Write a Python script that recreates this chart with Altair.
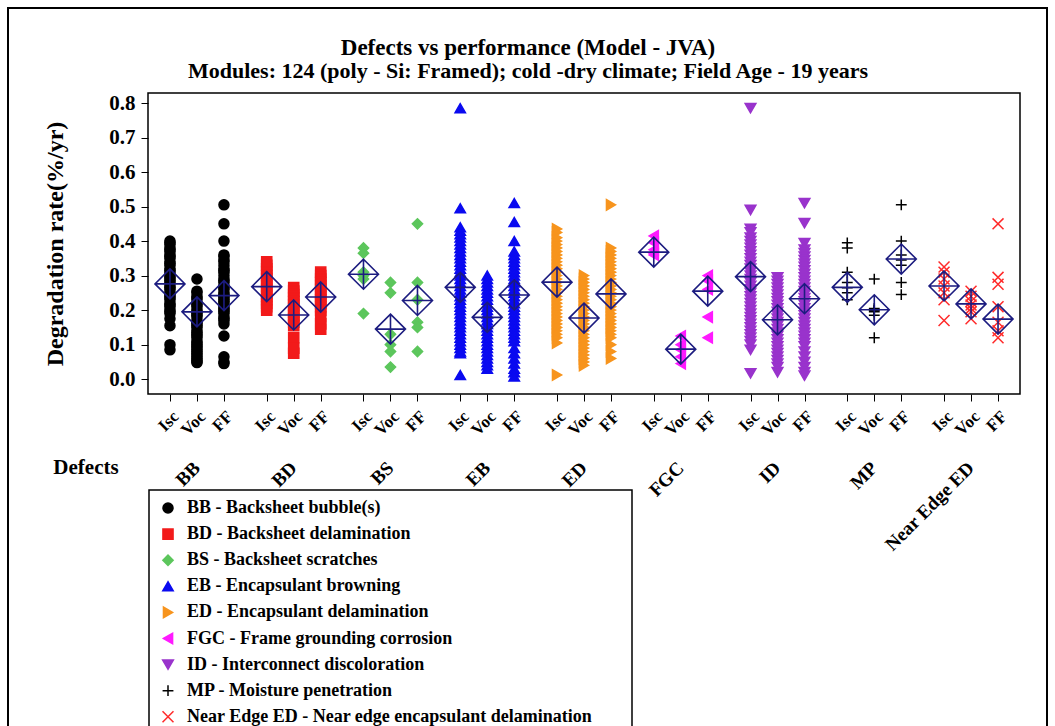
import altair as alt
import pandas as pd

# ---------------- data ----------------
DEFECTS = ["BB", "BD", "BS", "EB", "ED", "FGC", "ID", "MP", "Near Edge ED"]
PARAMS = ["Isc", "Voc", "FF"]
LEGEND_LABELS = [
    "BB - Backsheet bubble(s)",
    "BD - Backsheet delamination",
    "BS - Backsheet scratches",
    "EB - Encapsulant browning",
    "ED - Encapsulant delamination",
    "FGC - Frame grounding corrosion",
    "ID - Interconnect discoloration",
    "MP - Moisture penetration",
    "Near Edge ED - Near edge encapsulant delamination",
]
TITLE = "Defects vs performance (Model - JVA)"
SUBTITLE = "Modules: 124 (poly - Si: Framed); cold -dry climate; Field Age - 19 years"

BB_ISC = [0.40, 0.395, 0.39, 0.38, 0.375, 0.37, 0.36, 0.355, 0.35, 0.34, 0.335, 0.33, 0.32, 0.315,
          0.31, 0.30, 0.295, 0.29, 0.285, 0.28, 0.27, 0.265, 0.26, 0.25, 0.245, 0.24, 0.235, 0.23,
          0.22, 0.215, 0.21, 0.20, 0.195, 0.19, 0.175, 0.155, 0.10, 0.085]
BB_VOC = [0.29, 0.255, 0.25, 0.24, 0.235, 0.23, 0.22, 0.215, 0.21, 0.20, 0.195, 0.19, 0.185, 0.18,
          0.17, 0.165, 0.16, 0.155, 0.15, 0.14, 0.135, 0.13, 0.125, 0.12, 0.11, 0.105, 0.10, 0.095,
          0.09, 0.085, 0.08, 0.075, 0.07, 0.065, 0.06, 0.055, 0.05, 0.048]
BB_FF = [0.505, 0.45, 0.40, 0.36, 0.355, 0.345, 0.34, 0.33, 0.32, 0.315, 0.31, 0.30, 0.29, 0.285,
         0.28, 0.27, 0.265, 0.26, 0.25, 0.245, 0.24, 0.235, 0.23, 0.225, 0.22, 0.21, 0.205, 0.20,
         0.195, 0.19, 0.18, 0.175, 0.17, 0.16, 0.125, 0.065, 0.05, 0.045]

BD_ISC = [0.34, 0.33, 0.32, 0.31, 0.30, 0.29, 0.28, 0.27, 0.26, 0.25, 0.24, 0.23, 0.22, 0.21, 0.20]
BD_VOC = [0.265, 0.255, 0.245, 0.235, 0.225, 0.215, 0.205, 0.195, 0.185, 0.175, 0.165, 0.155, 0.12, 0.09, 0.075]
BD_FF = [0.31, 0.30, 0.29, 0.28, 0.27, 0.26, 0.25, 0.24, 0.23, 0.22, 0.21, 0.20, 0.18, 0.16, 0.145]

BS_ISC = [0.38, 0.365, 0.31, 0.30, 0.29, 0.19]
BS_VOC = [0.28, 0.25, 0.13, 0.10, 0.08, 0.035]
BS_FF = [0.45, 0.28, 0.23, 0.165, 0.15, 0.08]

EB_ISC = [0.785, 0.495, 0.44, 0.43, 0.42, 0.41, 0.40, 0.39, 0.38, 0.37, 0.36, 0.35, 0.34, 0.33,
          0.32, 0.31, 0.30, 0.29, 0.28, 0.27, 0.26, 0.25, 0.24, 0.23, 0.22, 0.21, 0.20, 0.19, 0.18,
          0.17, 0.16, 0.15, 0.14, 0.13, 0.12, 0.11, 0.10, 0.09, 0.08, 0.075, 0.012]
EB_VOC = [0.30, 0.29, 0.28, 0.27, 0.26, 0.25, 0.24, 0.23, 0.22, 0.21, 0.20, 0.19, 0.18, 0.17, 0.16,
          0.15, 0.14, 0.13, 0.12, 0.11, 0.10, 0.09, 0.08, 0.07, 0.06, 0.05, 0.04, 0.03]
EB_FF = [0.51, 0.455, 0.40, 0.37, 0.36, 0.35, 0.34, 0.33, 0.32, 0.31, 0.30, 0.29, 0.28, 0.27, 0.26,
         0.25, 0.24, 0.23, 0.22, 0.21, 0.20, 0.19, 0.18, 0.17, 0.16, 0.15, 0.14, 0.13, 0.12, 0.11,
         0.09, 0.075, 0.06, 0.045, 0.03, 0.02, 0.008]

ED_ISC = [0.435, 0.425, 0.41, 0.40, 0.39, 0.38, 0.37, 0.36, 0.35, 0.34, 0.33, 0.32, 0.31, 0.30,
          0.29, 0.28, 0.27, 0.26, 0.25, 0.24, 0.23, 0.22, 0.21, 0.20, 0.19, 0.18, 0.17, 0.16, 0.15,
          0.14, 0.13, 0.12, 0.105, 0.012]
ED_VOC = [0.30, 0.29, 0.28, 0.27, 0.26, 0.25, 0.24, 0.23, 0.22, 0.21, 0.20, 0.19, 0.18, 0.17, 0.16,
          0.15, 0.14, 0.13, 0.12, 0.11, 0.10, 0.09, 0.08, 0.07, 0.06, 0.05, 0.04]
ED_FF = [0.505, 0.38, 0.37, 0.36, 0.35, 0.34, 0.33, 0.32, 0.31, 0.30, 0.29, 0.28, 0.27, 0.26, 0.25,
         0.24, 0.23, 0.22, 0.21, 0.20, 0.19, 0.18, 0.17, 0.16, 0.15, 0.14, 0.13, 0.12, 0.10, 0.08,
         0.06]

FGC_ISC = [0.415, 0.395, 0.375, 0.365, 0.36]
FGC_VOC = [0.125, 0.10, 0.085, 0.065, 0.045]
FGC_FF = [0.30, 0.285, 0.26, 0.18, 0.12]

ID_ISC = [0.785, 0.49, 0.435, 0.425, 0.41, 0.40, 0.39, 0.38, 0.37, 0.36, 0.35, 0.34, 0.33, 0.32,
          0.31, 0.30, 0.29, 0.28, 0.27, 0.26, 0.25, 0.24, 0.23, 0.22, 0.21, 0.20, 0.19, 0.18, 0.17,
          0.16, 0.15, 0.14, 0.13, 0.12, 0.11, 0.10, 0.085, 0.017]
ID_VOC = [0.295, 0.285, 0.275, 0.265, 0.255, 0.245, 0.235, 0.225, 0.215, 0.205, 0.195, 0.185,
          0.175, 0.165, 0.155, 0.145, 0.135, 0.125, 0.115, 0.105, 0.095, 0.085, 0.075, 0.065,
          0.055, 0.045, 0.035, 0.02]
ID_FF = [0.51, 0.452, 0.394, 0.375, 0.365, 0.355, 0.345, 0.335, 0.325, 0.315, 0.305, 0.295, 0.285,
         0.275, 0.265, 0.255, 0.245, 0.235, 0.225, 0.215, 0.205, 0.195, 0.185, 0.175, 0.165, 0.155,
         0.145, 0.135, 0.125, 0.115, 0.105, 0.095, 0.08, 0.065, 0.05, 0.035, 0.02, 0.01]

MP_ISC = [0.395, 0.38, 0.31, 0.28, 0.265, 0.25, 0.23]
MP_VOC = [0.29, 0.205, 0.20, 0.20, 0.195, 0.185, 0.12]
MP_FF = [0.505, 0.40, 0.36, 0.345, 0.33, 0.28, 0.245]

NE_ISC = [0.325, 0.31, 0.29, 0.27, 0.25, 0.23, 0.17]
NE_VOC = [0.255, 0.24, 0.225, 0.215, 0.205, 0.195, 0.175]
NE_FF = [0.45, 0.295, 0.275, 0.21, 0.165, 0.14, 0.12]

SERIES = [
    (BB_ISC, BB_VOC, BB_FF), (BD_ISC, BD_VOC, BD_FF), (BS_ISC, BS_VOC, BS_FF),
    (EB_ISC, EB_VOC, EB_FF), (ED_ISC, ED_VOC, ED_FF), (FGC_ISC, FGC_VOC, FGC_FF),
    (ID_ISC, ID_VOC, ID_FF), (MP_ISC, MP_VOC, MP_FF), (NE_ISC, NE_VOC, NE_FF),
]

MEAN_ISC = [0.276, 0.268, 0.304, 0.266, 0.281, 0.368, 0.297, 0.266, 0.270]
MEAN_VOC = [0.195, 0.186, 0.145, 0.179, 0.177, 0.087, 0.172, 0.201, 0.218]
MEAN_FF = [0.242, 0.238, 0.228, 0.244, 0.247, 0.255, 0.233, 0.348, 0.174]

Y_TICKS = [0.0, 0.1, 0.2, 0.3, 0.4, 0.5, 0.6, 0.7, 0.8]

# ---------------- styling ----------------
FONT = "Liberation Serif"
PLUS = "M-1,0L1,0M0,-1L0,1"
XMARK = "M-1,-1L1,1M-1,1L1,-1"
MEAN_SHAPE = "M0,-1L1,0L0,1L-1,0Z M-1,0L1,0 M0,-1L0,1"
COLORS = ["#000000", "#f21a1a", "#5cc65c", "#0a0af0", "#f7941d", "#ff1aff", "#9933cc", "#000000", "#ff2a2a"]
SHAPES = ["circle", "square", "diamond", "triangle-up", "triangle-right", "triangle-left",
          "triangle-down", PLUS, XMARK]
SIZES = [100, 120, 150, 170, 170, 170, 170, 150, 150]
NAVY = "#1c1c80"

GROUP_STEP = 10.0
SUB_STEP = 2.79

# ---------------- tables ----------------
rows = []
for g, (name, lab) in enumerate(zip(DEFECTS, LEGEND_LABELS)):
    for j, p in enumerate(PARAMS):
        for v in SERIES[g][j]:
            rows.append({"Defect": name, "Param": p, "Legend": lab,
                         "pos": g * GROUP_STEP + j * SUB_STEP, "rate": v})
pts = pd.DataFrame(rows)

mrows = []
for g, name in enumerate(DEFECTS):
    for j, means in enumerate((MEAN_ISC, MEAN_VOC, MEAN_FF)):
        mrows.append({"Defect": name, "Param": PARAMS[j],
                      "pos": g * GROUP_STEP + j * SUB_STEP, "rate": means[g]})
means_df = pd.DataFrame(mrows)

glabels = pd.DataFrame({"Defect": DEFECTS,
                        "pos": [g * GROUP_STEP + SUB_STEP for g in range(len(DEFECTS))]})

legend_df = pd.DataFrame({"Legend": LEGEND_LABELS, "row": list(range(len(LEGEND_LABELS)))})

tick_pos = [g * GROUP_STEP + j * SUB_STEP for g in range(len(DEFECTS)) for j in range(3)]

xscale = alt.Scale(domain=[-2.27, 87.85], nice=False, zero=False)
yscale = alt.Scale(domain=[-0.043, 0.829], nice=False, zero=False)
fill_scale = alt.Scale(domain=LEGEND_LABELS, range=COLORS)
shape_scale = alt.Scale(domain=LEGEND_LABELS, range=SHAPES)
size_scale = alt.Scale(domain=LEGEND_LABELS, range=SIZES)

x_axis = alt.Axis(
    values=tick_pos, title=None, grid=False, domain=False, tickSize=7, tickColor="black",
    labelExpr="['Isc','Voc','FF'][round((datum.value % 10) / 2.79)]",
    labelAngle=-45, labelAlign="right", labelBaseline="top", labelPadding=7,
    labelFont=FONT, labelFontSize=17, labelFontWeight="bold", labelColor="black",
    labelOverlap=False, labelFlush=False, labelBound=False,
)
y_axis = alt.Axis(
    values=Y_TICKS, format=".1f", title="Degradation rate(%/yr)", grid=False, domain=False,
    tickSize=7, tickColor="black", labelPadding=6, labelOverlap=False,
    labelFont=FONT, labelFontSize=21, labelFontWeight="bold", labelColor="black",
    titleFont=FONT, titleFontSize=24, titleFontWeight="bold", titleColor="black",
    titleX=-81, titleY=150.5, titleAngle=270, titleAlign="center", titleBaseline="bottom",
)

X = alt.X("pos:Q", scale=xscale, axis=x_axis)
Y = alt.Y("rate:Q", scale=yscale, axis=y_axis)

frame = alt.Chart(alt.Data(values=[{"k": 1}])).mark_rect(
    fillOpacity=0, stroke="black", strokeWidth=2
).encode(x=alt.value(-140), x2=alt.value(899), y=alt.value(-85), y2=alt.value(700))

points = alt.Chart(pts).mark_point(filled=True, opacity=1, strokeWidth=1.5).encode(
    x=X, y=Y,
    fill=alt.Fill("Legend:N", scale=fill_scale, legend=None),
    stroke=alt.Stroke("Legend:N", scale=fill_scale, legend=None),
    shape=alt.Shape("Legend:N", scale=shape_scale, legend=None),
    size=alt.Size("Legend:N", scale=size_scale, legend=None),
)

means = alt.Chart(means_df).mark_point(
    shape=MEAN_SHAPE, size=900, filled=False, color=NAVY, strokeWidth=1.6, opacity=1
).encode(x=X, y=Y)

group_text = alt.Chart(glabels).mark_text(
    angle=315, align="right", baseline="middle", font=FONT, fontSize=19,
    fontWeight="bold", color="black"
).encode(x=X, y=alt.value(372), text="Defect:N")

label_df = pd.DataFrame({"t": ["Defects", TITLE, SUBTITLE],
                         "kind": ["defects", "title", "subtitle"]})

defects_text = alt.Chart(label_df).transform_filter("datum.kind == 'defects'").mark_text(
    align="center", baseline="middle", font=FONT, fontSize=21, fontWeight="bold", color="black"
).encode(x=alt.value(-62), y=alt.value(375), text="t:N")

title_text = alt.Chart(label_df).transform_filter("datum.kind == 'title'").mark_text(
    align="center", baseline="alphabetic", font=FONT, fontSize=23, fontWeight="bold", color="black"
).encode(x=alt.value(380), y=alt.value(-38), text="t:N")

subtitle_text = alt.Chart(label_df).transform_filter("datum.kind == 'subtitle'").mark_text(
    align="center", baseline="alphabetic", font=FONT, fontSize=22, fontWeight="bold", color="black"
).encode(x=alt.value(380), y=alt.value(-15), text="t:N")

# legend (drawn as marks: a box, the symbols from the shared scales and the labels)
legend_box = alt.Chart(alt.Data(values=[{"k": 1}])).mark_rect(
    fill="white", stroke="black", strokeWidth=1.5
).encode(x=alt.value(1), x2=alt.value(484), y=alt.value(397), y2=alt.value(700))

legend_base = alt.Chart(legend_df).transform_calculate(ly="415 + 26.1 * datum.row")

legend_symbols = legend_base.mark_point(filled=True, opacity=1, strokeWidth=1.5).encode(
    x=alt.value(20),
    y=alt.Y("ly:Q", scale=None),
    fill=alt.Fill("Legend:N", scale=fill_scale, legend=None),
    stroke=alt.Stroke("Legend:N", scale=fill_scale, legend=None),
    shape=alt.Shape("Legend:N", scale=shape_scale, legend=None),
    size=alt.Size("Legend:N", scale=size_scale, legend=None),
)

legend_labels = legend_base.mark_text(
    align="left", baseline="middle", font=FONT, fontSize=18, fontWeight="bold", color="black"
).encode(x=alt.value(39), y=alt.Y("ly:Q", scale=None), text="Legend:N")

chart = alt.layer(
    frame, points, means, group_text, defects_text, title_text, subtitle_text,
    legend_box, legend_symbols, legend_labels,
).properties(
    width=872, height=301,
    autosize=alt.AutoSizeParams(type="none"),
    padding={"left": 148, "top": 93, "right": 35, "bottom": 332},
    background="white",
).configure_view(stroke="black", strokeWidth=1.5)

chart.save("out.html", embed_options={"renderer": "svg", "actions": False})
